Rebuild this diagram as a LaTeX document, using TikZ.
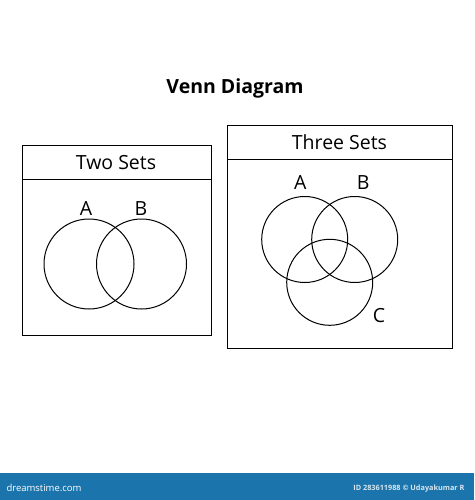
\documentclass[tikz,border=0pt]{standalone}
\usepackage{fontspec}
\setmainfont{Open Sans}
\usetikzlibrary{positioning}
\definecolor{barblue}{RGB}{27,117,172}
\definecolor{barinfo}{RGB}{215,230,240}

\begin{document}
\begin{tikzpicture}[x=1pt, y=-1pt, line width=1pt,
	set/.style={circle, draw, minimum size=#1, inner sep=0pt},
	head/.style={anchor=base, font=\fontsize{19.5}{20}\selectfont},
	lbl/.style={anchor=base, font=\fontsize{19.5}{20}\selectfont}]
	\useasboundingbox (0,0) rectangle (474,500);
	\node[anchor=base, font=\bfseries\fontsize{19.5}{20}\selectfont] (title) at (235,94) {Venn Diagram};
	
	% two sets
	\draw (22,145) rectangle (211,335); \draw (22,179) -- (211,179);
	\node[head] (two) at (116,169.5) {Two Sets};
	\node[set=90pt] (twoA) at (89,264) {}; \node[set=90pt] (twoB) at (141.5,264) {};
	\node[lbl] (twoa) at (86,215) {A}; \node[lbl] (twob) at (141,215) {B};
	
	% three sets
	\draw (227,125) rectangle (452,348); \draw (227,159.5) -- (452,159.5);
	\node[head] (three) at (339.5,149.5) {Three Sets};
	\node[set=86pt] (threeA) at (304.7,239.5) {}; \node[set=86pt] (threeB) at (354.7,239.5) {};
	\node[set=86pt] (threeC) at (329.7,282.3) {};
	\node[lbl] (threea) at (300.3,189) {A}; \node[lbl] (threeb) at (363.3,189) {B};
	\node[lbl] (threec) at (379,322.3) {C};
	
	% footer
	\fill[barblue] (0,473) rectangle (474,500);
	\node[anchor=base west, inner sep=0pt, text=white, font=\fontsize{9.5}{10}\selectfont] (site) at (6,491.5) {dreamstime.com};
	\node[anchor=base east, inner sep=0pt, text=barinfo, font=\bfseries\fontsize{7.3}{8}\selectfont] (info) at (465,490) {ID 283611988 © Udayakumar R};
\end{tikzpicture}
\end{document}
